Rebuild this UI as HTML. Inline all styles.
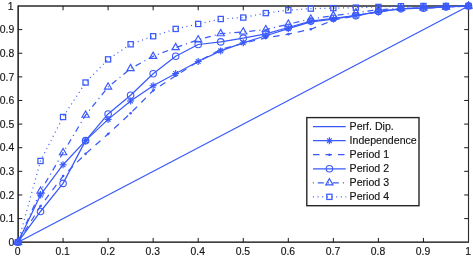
<!DOCTYPE html>
<html><head><meta charset="utf-8"><title>chart</title>
<style>html,body{margin:0;padding:0;background:#fff}svg{display:block}</style></head>
<body><svg width="473" height="257" viewBox="0 0 473 257">
<rect width="473" height="257" fill="#fff"/>
<g stroke="#1a1a1a" fill="none">
<line x1="18.15" y1="5.4" x2="18.15" y2="242.7" stroke-width="1.65" stroke="#303030"/>
<line x1="18.0" y1="242.2" x2="469.0" y2="242.2" stroke-width="1.2" stroke="#000"/>
<line x1="18.0" y1="6.0" x2="469.0" y2="6.0" stroke-width="1.3" stroke="#2a2a2a"/>
<line x1="468.5" y1="6.0" x2="468.5" y2="242.2" stroke-width="1.15" stroke="#2e2e2e"/>
<line x1="63.05" y1="242.2" x2="63.05" y2="237.89999999999998" stroke-width="1"/>
<line x1="63.05" y1="6.0" x2="63.05" y2="10.3" stroke-width="1"/>
<line x1="18.0" y1="218.58" x2="22.3" y2="218.58" stroke-width="1"/>
<line x1="468.5" y1="218.58" x2="464.2" y2="218.58" stroke-width="1"/>
<line x1="108.10" y1="242.2" x2="108.10" y2="237.89999999999998" stroke-width="1"/>
<line x1="108.10" y1="6.0" x2="108.10" y2="10.3" stroke-width="1"/>
<line x1="18.0" y1="194.96" x2="22.3" y2="194.96" stroke-width="1"/>
<line x1="468.5" y1="194.96" x2="464.2" y2="194.96" stroke-width="1"/>
<line x1="153.15" y1="242.2" x2="153.15" y2="237.89999999999998" stroke-width="1"/>
<line x1="153.15" y1="6.0" x2="153.15" y2="10.3" stroke-width="1"/>
<line x1="18.0" y1="171.34" x2="22.3" y2="171.34" stroke-width="1"/>
<line x1="468.5" y1="171.34" x2="464.2" y2="171.34" stroke-width="1"/>
<line x1="198.20" y1="242.2" x2="198.20" y2="237.89999999999998" stroke-width="1"/>
<line x1="198.20" y1="6.0" x2="198.20" y2="10.3" stroke-width="1"/>
<line x1="18.0" y1="147.72" x2="22.3" y2="147.72" stroke-width="1"/>
<line x1="468.5" y1="147.72" x2="464.2" y2="147.72" stroke-width="1"/>
<line x1="243.25" y1="242.2" x2="243.25" y2="237.89999999999998" stroke-width="1"/>
<line x1="243.25" y1="6.0" x2="243.25" y2="10.3" stroke-width="1"/>
<line x1="18.0" y1="124.10" x2="22.3" y2="124.10" stroke-width="1"/>
<line x1="468.5" y1="124.10" x2="464.2" y2="124.10" stroke-width="1"/>
<line x1="288.30" y1="242.2" x2="288.30" y2="237.89999999999998" stroke-width="1"/>
<line x1="288.30" y1="6.0" x2="288.30" y2="10.3" stroke-width="1"/>
<line x1="18.0" y1="100.48" x2="22.3" y2="100.48" stroke-width="1"/>
<line x1="468.5" y1="100.48" x2="464.2" y2="100.48" stroke-width="1"/>
<line x1="333.35" y1="242.2" x2="333.35" y2="237.89999999999998" stroke-width="1"/>
<line x1="333.35" y1="6.0" x2="333.35" y2="10.3" stroke-width="1"/>
<line x1="18.0" y1="76.86" x2="22.3" y2="76.86" stroke-width="1"/>
<line x1="468.5" y1="76.86" x2="464.2" y2="76.86" stroke-width="1"/>
<line x1="378.40" y1="242.2" x2="378.40" y2="237.89999999999998" stroke-width="1"/>
<line x1="378.40" y1="6.0" x2="378.40" y2="10.3" stroke-width="1"/>
<line x1="18.0" y1="53.24" x2="22.3" y2="53.24" stroke-width="1"/>
<line x1="468.5" y1="53.24" x2="464.2" y2="53.24" stroke-width="1"/>
<line x1="423.45" y1="242.2" x2="423.45" y2="237.89999999999998" stroke-width="1"/>
<line x1="423.45" y1="6.0" x2="423.45" y2="10.3" stroke-width="1"/>
<line x1="18.0" y1="29.62" x2="22.3" y2="29.62" stroke-width="1"/>
<line x1="468.5" y1="29.62" x2="464.2" y2="29.62" stroke-width="1"/>
</g>
<g fill="none" stroke="#3a5afa" stroke-width="1.25" stroke-linejoin="round">
<line x1="18.0" y1="242.2" x2="468.5" y2="6.0"/>
<polyline points="18.00,242.20 40.53,194.96 63.05,164.73 85.58,140.63 108.10,119.38 130.62,100.95 153.15,85.72 175.68,73.55 198.20,61.51 220.72,50.88 243.25,42.85 265.78,35.76 288.30,28.68 310.82,21.83 333.35,19.11 355.88,15.45 378.40,11.91 400.93,8.60 423.45,8.01 445.98,6.94 468.50,6.00"/>
<polyline points="18.00,242.20 40.53,206.06 63.05,176.06 85.58,153.86 108.10,134.02 130.62,113.23 153.15,90.56 175.68,75.68 198.20,61.51 220.72,49.46 243.25,43.32 265.78,37.89 288.30,34.23 310.82,29.22 333.35,20.17 355.88,15.92 378.40,11.91 400.93,8.60 423.45,8.01 445.98,6.94 468.50,6.00" stroke-dasharray="6.5 6"/>
<polyline points="18.00,242.20 40.53,211.49 63.05,183.39 85.58,140.63 108.10,113.94 130.62,95.28 153.15,73.79 175.68,56.31 198.20,44.50 220.72,41.90 243.25,38.12 265.78,33.87 288.30,27.49 310.82,21.12 333.35,18.28 355.88,15.68 378.40,11.50 400.93,8.83 423.45,8.13 445.98,6.94 468.50,6.00"/>
<polyline points="18.00,242.20 40.53,191.18 63.05,152.68 85.58,115.12 108.10,87.02 130.62,68.59 153.15,56.31 175.68,47.57 198.20,39.78 220.72,33.64 243.25,31.89 265.78,29.62 288.30,24.19 310.82,18.99 333.35,15.57 355.88,12.71 378.40,9.78 400.93,8.36 423.45,7.89 445.98,7.18 468.50,6.00" stroke-dasharray="1.1 3.85 6 4.05"/>
<polyline points="18.00,242.20 40.53,160.95 63.05,117.01 85.58,82.53 108.10,59.38 130.62,44.26 153.15,36.23 175.68,28.91 198.20,23.95 220.72,18.99 243.25,17.57 265.78,13.09 288.30,10.25 310.82,8.60 333.35,8.13 355.88,7.65 378.40,6.94 400.93,6.24 423.45,6.00 445.98,6.00 468.50,6.00" stroke-dasharray="1.0 3.65"/>
<g stroke-width="1" stroke-linejoin="miter">
<line x1="14.50" y1="242.20" x2="21.50" y2="242.20" stroke-width="1.15"/><line x1="15.65" y1="239.85" x2="20.35" y2="244.55" stroke-width="1.15"/><line x1="18.00" y1="238.70" x2="18.00" y2="245.70" stroke-width="1.15"/><line x1="20.35" y1="239.85" x2="15.65" y2="244.55" stroke-width="1.15"/>
<line x1="37.03" y1="194.96" x2="44.03" y2="194.96" stroke-width="1.15"/><line x1="38.17" y1="192.61" x2="42.88" y2="197.31" stroke-width="1.15"/><line x1="40.53" y1="191.46" x2="40.53" y2="198.46" stroke-width="1.15"/><line x1="42.88" y1="192.61" x2="38.17" y2="197.31" stroke-width="1.15"/>
<line x1="59.55" y1="164.73" x2="66.55" y2="164.73" stroke-width="1.15"/><line x1="60.70" y1="162.38" x2="65.40" y2="167.08" stroke-width="1.15"/><line x1="63.05" y1="161.23" x2="63.05" y2="168.23" stroke-width="1.15"/><line x1="65.40" y1="162.38" x2="60.70" y2="167.08" stroke-width="1.15"/>
<line x1="82.08" y1="140.63" x2="89.08" y2="140.63" stroke-width="1.15"/><line x1="83.22" y1="138.28" x2="87.93" y2="142.99" stroke-width="1.15"/><line x1="85.58" y1="137.13" x2="85.58" y2="144.13" stroke-width="1.15"/><line x1="87.93" y1="138.28" x2="83.22" y2="142.99" stroke-width="1.15"/>
<line x1="104.60" y1="119.38" x2="111.60" y2="119.38" stroke-width="1.15"/><line x1="105.75" y1="117.02" x2="110.45" y2="121.73" stroke-width="1.15"/><line x1="108.10" y1="115.88" x2="108.10" y2="122.88" stroke-width="1.15"/><line x1="110.45" y1="117.02" x2="105.75" y2="121.73" stroke-width="1.15"/>
<line x1="127.12" y1="100.95" x2="134.12" y2="100.95" stroke-width="1.15"/><line x1="128.27" y1="98.60" x2="132.98" y2="103.30" stroke-width="1.15"/><line x1="130.62" y1="97.45" x2="130.62" y2="104.45" stroke-width="1.15"/><line x1="132.98" y1="98.60" x2="128.27" y2="103.30" stroke-width="1.15"/>
<line x1="149.65" y1="85.72" x2="156.65" y2="85.72" stroke-width="1.15"/><line x1="150.80" y1="83.37" x2="155.50" y2="88.07" stroke-width="1.15"/><line x1="153.15" y1="82.22" x2="153.15" y2="89.22" stroke-width="1.15"/><line x1="155.50" y1="83.37" x2="150.80" y2="88.07" stroke-width="1.15"/>
<line x1="172.18" y1="73.55" x2="179.18" y2="73.55" stroke-width="1.15"/><line x1="173.32" y1="71.20" x2="178.03" y2="75.90" stroke-width="1.15"/><line x1="175.68" y1="70.05" x2="175.68" y2="77.05" stroke-width="1.15"/><line x1="178.03" y1="71.20" x2="173.32" y2="75.90" stroke-width="1.15"/>
<line x1="194.70" y1="61.51" x2="201.70" y2="61.51" stroke-width="1.15"/><line x1="195.85" y1="59.16" x2="200.55" y2="63.86" stroke-width="1.15"/><line x1="198.20" y1="58.01" x2="198.20" y2="65.01" stroke-width="1.15"/><line x1="200.55" y1="59.16" x2="195.85" y2="63.86" stroke-width="1.15"/>
<line x1="217.22" y1="50.88" x2="224.22" y2="50.88" stroke-width="1.15"/><line x1="218.37" y1="48.53" x2="223.08" y2="53.23" stroke-width="1.15"/><line x1="220.72" y1="47.38" x2="220.72" y2="54.38" stroke-width="1.15"/><line x1="223.08" y1="48.53" x2="218.37" y2="53.23" stroke-width="1.15"/>
<line x1="239.75" y1="42.85" x2="246.75" y2="42.85" stroke-width="1.15"/><line x1="240.90" y1="40.50" x2="245.60" y2="45.20" stroke-width="1.15"/><line x1="243.25" y1="39.35" x2="243.25" y2="46.35" stroke-width="1.15"/><line x1="245.60" y1="40.50" x2="240.90" y2="45.20" stroke-width="1.15"/>
<line x1="262.28" y1="35.76" x2="269.28" y2="35.76" stroke-width="1.15"/><line x1="263.42" y1="33.41" x2="268.13" y2="38.11" stroke-width="1.15"/><line x1="265.78" y1="32.26" x2="265.78" y2="39.26" stroke-width="1.15"/><line x1="268.13" y1="33.41" x2="263.42" y2="38.11" stroke-width="1.15"/>
<line x1="284.80" y1="28.68" x2="291.80" y2="28.68" stroke-width="1.15"/><line x1="285.95" y1="26.32" x2="290.65" y2="31.03" stroke-width="1.15"/><line x1="288.30" y1="25.18" x2="288.30" y2="32.18" stroke-width="1.15"/><line x1="290.65" y1="26.32" x2="285.95" y2="31.03" stroke-width="1.15"/>
<line x1="307.32" y1="21.83" x2="314.32" y2="21.83" stroke-width="1.15"/><line x1="308.47" y1="19.47" x2="313.18" y2="24.18" stroke-width="1.15"/><line x1="310.82" y1="18.33" x2="310.82" y2="25.33" stroke-width="1.15"/><line x1="313.18" y1="19.47" x2="308.47" y2="24.18" stroke-width="1.15"/>
<line x1="329.85" y1="19.11" x2="336.85" y2="19.11" stroke-width="1.15"/><line x1="331.00" y1="16.76" x2="335.70" y2="21.46" stroke-width="1.15"/><line x1="333.35" y1="15.61" x2="333.35" y2="22.61" stroke-width="1.15"/><line x1="335.70" y1="16.76" x2="331.00" y2="21.46" stroke-width="1.15"/>
<line x1="352.38" y1="15.45" x2="359.38" y2="15.45" stroke-width="1.15"/><line x1="353.52" y1="13.10" x2="358.23" y2="17.80" stroke-width="1.15"/><line x1="355.88" y1="11.95" x2="355.88" y2="18.95" stroke-width="1.15"/><line x1="358.23" y1="13.10" x2="353.52" y2="17.80" stroke-width="1.15"/>
<line x1="374.90" y1="11.91" x2="381.90" y2="11.91" stroke-width="1.15"/><line x1="376.05" y1="9.55" x2="380.75" y2="14.26" stroke-width="1.15"/><line x1="378.40" y1="8.41" x2="378.40" y2="15.41" stroke-width="1.15"/><line x1="380.75" y1="9.55" x2="376.05" y2="14.26" stroke-width="1.15"/>
<line x1="397.43" y1="8.60" x2="404.43" y2="8.60" stroke-width="1.15"/><line x1="398.57" y1="6.25" x2="403.28" y2="10.95" stroke-width="1.15"/><line x1="400.93" y1="5.10" x2="400.93" y2="12.10" stroke-width="1.15"/><line x1="403.28" y1="6.25" x2="398.57" y2="10.95" stroke-width="1.15"/>
<line x1="419.95" y1="8.01" x2="426.95" y2="8.01" stroke-width="1.15"/><line x1="421.10" y1="5.66" x2="425.80" y2="10.36" stroke-width="1.15"/><line x1="423.45" y1="4.51" x2="423.45" y2="11.51" stroke-width="1.15"/><line x1="425.80" y1="5.66" x2="421.10" y2="10.36" stroke-width="1.15"/>
<line x1="442.48" y1="6.94" x2="449.48" y2="6.94" stroke-width="1.15"/><line x1="443.62" y1="4.59" x2="448.33" y2="9.30" stroke-width="1.15"/><line x1="445.98" y1="3.44" x2="445.98" y2="10.44" stroke-width="1.15"/><line x1="448.33" y1="4.59" x2="443.62" y2="9.30" stroke-width="1.15"/>
<line x1="465.00" y1="6.00" x2="472.00" y2="6.00" stroke-width="1.15"/><line x1="466.15" y1="3.65" x2="470.85" y2="8.35" stroke-width="1.15"/><line x1="468.50" y1="2.50" x2="468.50" y2="9.50" stroke-width="1.15"/><line x1="470.85" y1="3.65" x2="466.15" y2="8.35" stroke-width="1.15"/>
<circle cx="18.00" cy="242.20" r="1.3" fill="#3a5afa" stroke="none"/>
<circle cx="40.53" cy="206.06" r="1.3" fill="#3a5afa" stroke="none"/>
<circle cx="63.05" cy="176.06" r="1.3" fill="#3a5afa" stroke="none"/>
<circle cx="85.58" cy="153.86" r="1.3" fill="#3a5afa" stroke="none"/>
<circle cx="108.10" cy="134.02" r="1.3" fill="#3a5afa" stroke="none"/>
<circle cx="130.62" cy="113.23" r="1.3" fill="#3a5afa" stroke="none"/>
<circle cx="153.15" cy="90.56" r="1.3" fill="#3a5afa" stroke="none"/>
<circle cx="175.68" cy="75.68" r="1.3" fill="#3a5afa" stroke="none"/>
<circle cx="198.20" cy="61.51" r="1.3" fill="#3a5afa" stroke="none"/>
<circle cx="220.72" cy="49.46" r="1.3" fill="#3a5afa" stroke="none"/>
<circle cx="243.25" cy="43.32" r="1.3" fill="#3a5afa" stroke="none"/>
<circle cx="265.78" cy="37.89" r="1.3" fill="#3a5afa" stroke="none"/>
<circle cx="288.30" cy="34.23" r="1.3" fill="#3a5afa" stroke="none"/>
<circle cx="310.82" cy="29.22" r="1.3" fill="#3a5afa" stroke="none"/>
<circle cx="333.35" cy="20.17" r="1.3" fill="#3a5afa" stroke="none"/>
<circle cx="355.88" cy="15.92" r="1.3" fill="#3a5afa" stroke="none"/>
<circle cx="378.40" cy="11.91" r="1.3" fill="#3a5afa" stroke="none"/>
<circle cx="400.93" cy="8.60" r="1.3" fill="#3a5afa" stroke="none"/>
<circle cx="423.45" cy="8.01" r="1.3" fill="#3a5afa" stroke="none"/>
<circle cx="445.98" cy="6.94" r="1.3" fill="#3a5afa" stroke="none"/>
<circle cx="468.50" cy="6.00" r="1.3" fill="#3a5afa" stroke="none"/>
<circle cx="18.00" cy="242.20" r="3.25" stroke-width="1.1"/>
<circle cx="40.53" cy="211.49" r="3.25" stroke-width="1.1"/>
<circle cx="63.05" cy="183.39" r="3.25" stroke-width="1.1"/>
<circle cx="85.58" cy="140.63" r="3.25" stroke-width="1.1"/>
<circle cx="108.10" cy="113.94" r="3.25" stroke-width="1.1"/>
<circle cx="130.62" cy="95.28" r="3.25" stroke-width="1.1"/>
<circle cx="153.15" cy="73.79" r="3.25" stroke-width="1.1"/>
<circle cx="175.68" cy="56.31" r="3.25" stroke-width="1.1"/>
<circle cx="198.20" cy="44.50" r="3.25" stroke-width="1.1"/>
<circle cx="220.72" cy="41.90" r="3.25" stroke-width="1.1"/>
<circle cx="243.25" cy="38.12" r="3.25" stroke-width="1.1"/>
<circle cx="265.78" cy="33.87" r="3.25" stroke-width="1.1"/>
<circle cx="288.30" cy="27.49" r="3.25" stroke-width="1.1"/>
<circle cx="310.82" cy="21.12" r="3.25" stroke-width="1.1"/>
<circle cx="333.35" cy="18.28" r="3.25" stroke-width="1.1"/>
<circle cx="355.88" cy="15.68" r="3.25" stroke-width="1.1"/>
<circle cx="378.40" cy="11.50" r="3.25" stroke-width="1.1"/>
<circle cx="400.93" cy="8.83" r="3.25" stroke-width="1.1"/>
<circle cx="423.45" cy="8.13" r="3.25" stroke-width="1.1"/>
<circle cx="445.98" cy="6.94" r="3.25" stroke-width="1.1"/>
<circle cx="468.50" cy="6.00" r="3.25" stroke-width="1.1"/>
<polygon points="18.00,238.00 14.36,244.30 21.64,244.30" stroke-width="1.15"/>
<polygon points="40.53,186.98 36.89,193.28 44.16,193.28" stroke-width="1.15"/>
<polygon points="63.05,148.48 59.41,154.78 66.69,154.78" stroke-width="1.15"/>
<polygon points="85.58,110.92 81.94,117.22 89.21,117.22" stroke-width="1.15"/>
<polygon points="108.10,82.82 104.46,89.12 111.74,89.12" stroke-width="1.15"/>
<polygon points="130.62,64.39 126.99,70.69 134.26,70.69" stroke-width="1.15"/>
<polygon points="153.15,52.11 149.51,58.41 156.79,58.41" stroke-width="1.15"/>
<polygon points="175.68,43.37 172.04,49.67 179.31,49.67" stroke-width="1.15"/>
<polygon points="198.20,35.58 194.56,41.88 201.84,41.88" stroke-width="1.15"/>
<polygon points="220.72,29.44 217.09,35.74 224.36,35.74" stroke-width="1.15"/>
<polygon points="243.25,27.69 239.61,33.99 246.89,33.99" stroke-width="1.15"/>
<polygon points="265.78,25.42 262.14,31.72 269.41,31.72" stroke-width="1.15"/>
<polygon points="288.30,19.99 284.66,26.29 291.94,26.29" stroke-width="1.15"/>
<polygon points="310.82,14.79 307.19,21.09 314.46,21.09" stroke-width="1.15"/>
<polygon points="333.35,11.37 329.71,17.67 336.99,17.67" stroke-width="1.15"/>
<polygon points="355.88,8.51 352.24,14.81 359.51,14.81" stroke-width="1.15"/>
<polygon points="378.40,5.58 374.76,11.88 382.04,11.88" stroke-width="1.15"/>
<polygon points="400.93,4.16 397.29,10.46 404.56,10.46" stroke-width="1.15"/>
<polygon points="423.45,3.69 419.81,9.99 427.09,9.99" stroke-width="1.15"/>
<polygon points="445.98,2.98 442.34,9.28 449.61,9.28" stroke-width="1.15"/>
<polygon points="468.50,1.80 464.86,8.10 472.14,8.10" stroke-width="1.15"/>
<rect x="15.40" y="239.60" width="5.2" height="5.2" stroke-width="1.25"/>
<rect x="37.93" y="158.35" width="5.2" height="5.2" stroke-width="1.25"/>
<rect x="60.45" y="114.41" width="5.2" height="5.2" stroke-width="1.25"/>
<rect x="82.98" y="79.93" width="5.2" height="5.2" stroke-width="1.25"/>
<rect x="105.50" y="56.78" width="5.2" height="5.2" stroke-width="1.25"/>
<rect x="128.03" y="41.66" width="5.2" height="5.2" stroke-width="1.25"/>
<rect x="150.55" y="33.63" width="5.2" height="5.2" stroke-width="1.25"/>
<rect x="173.08" y="26.31" width="5.2" height="5.2" stroke-width="1.25"/>
<rect x="195.60" y="21.35" width="5.2" height="5.2" stroke-width="1.25"/>
<rect x="218.12" y="16.39" width="5.2" height="5.2" stroke-width="1.25"/>
<rect x="240.65" y="14.97" width="5.2" height="5.2" stroke-width="1.25"/>
<rect x="263.18" y="10.49" width="5.2" height="5.2" stroke-width="1.25"/>
<rect x="285.70" y="7.65" width="5.2" height="5.2" stroke-width="1.25"/>
<rect x="308.22" y="6.00" width="5.2" height="5.2" stroke-width="1.25"/>
<rect x="330.75" y="5.53" width="5.2" height="5.2" stroke-width="1.25"/>
<rect x="353.27" y="5.05" width="5.2" height="5.2" stroke-width="1.25"/>
<rect x="375.80" y="4.34" width="5.2" height="5.2" stroke-width="1.25"/>
<rect x="398.33" y="3.64" width="5.2" height="5.2" stroke-width="1.25"/>
<rect x="420.85" y="3.40" width="5.2" height="5.2" stroke-width="1.25"/>
<rect x="443.38" y="3.40" width="5.2" height="5.2" stroke-width="1.25"/>
<rect x="465.90" y="3.40" width="5.2" height="5.2" stroke-width="1.25"/>
</g></g>
<g font-family="'Liberation Sans', Arial, Helvetica, sans-serif" fill="#141414" stroke="#141414" stroke-width="0.15">
<text transform="translate(17.60,254.70) scale(1.0,0.97)" text-anchor="middle" font-size="10.4">0</text>
<text transform="translate(14.25,245.90) scale(1.0,0.97)" text-anchor="end" font-size="10.4">0</text>
<text transform="translate(62.65,254.70) scale(1.0,0.97)" text-anchor="middle" font-size="10.4">0.1</text>
<text transform="translate(14.25,222.28) scale(1.0,0.97)" text-anchor="end" font-size="10.4">0.1</text>
<text transform="translate(107.70,254.70) scale(1.0,0.97)" text-anchor="middle" font-size="10.4">0.2</text>
<text transform="translate(14.25,198.66) scale(1.0,0.97)" text-anchor="end" font-size="10.4">0.2</text>
<text transform="translate(152.75,254.70) scale(1.0,0.97)" text-anchor="middle" font-size="10.4">0.3</text>
<text transform="translate(14.25,175.04) scale(1.0,0.97)" text-anchor="end" font-size="10.4">0.3</text>
<text transform="translate(197.80,254.70) scale(1.0,0.97)" text-anchor="middle" font-size="10.4">0.4</text>
<text transform="translate(14.25,151.42) scale(1.0,0.97)" text-anchor="end" font-size="10.4">0.4</text>
<text transform="translate(242.85,254.70) scale(1.0,0.97)" text-anchor="middle" font-size="10.4">0.5</text>
<text transform="translate(14.25,127.80) scale(1.0,0.97)" text-anchor="end" font-size="10.4">0.5</text>
<text transform="translate(287.90,254.70) scale(1.0,0.97)" text-anchor="middle" font-size="10.4">0.6</text>
<text transform="translate(14.25,104.18) scale(1.0,0.97)" text-anchor="end" font-size="10.4">0.6</text>
<text transform="translate(332.95,254.70) scale(1.0,0.97)" text-anchor="middle" font-size="10.4">0.7</text>
<text transform="translate(14.25,80.56) scale(1.0,0.97)" text-anchor="end" font-size="10.4">0.7</text>
<text transform="translate(378.00,254.70) scale(1.0,0.97)" text-anchor="middle" font-size="10.4">0.8</text>
<text transform="translate(14.25,56.94) scale(1.0,0.97)" text-anchor="end" font-size="10.4">0.8</text>
<text transform="translate(423.05,254.70) scale(1.0,0.97)" text-anchor="middle" font-size="10.4">0.9</text>
<text transform="translate(14.25,33.32) scale(1.0,0.97)" text-anchor="end" font-size="10.4">0.9</text>
<text transform="translate(468.10,254.70) scale(1.0,0.97)" text-anchor="middle" font-size="10.4">1</text>
<text transform="translate(13.60,9.70) scale(1.0,0.97)" text-anchor="end" font-size="10.4">1</text>
</g>
<rect x="306.8" y="117.6" width="112.19999999999999" height="88.1" fill="#fff" stroke="#262626" stroke-width="1.4"/>
<g fill="none" stroke="#3a5afa" stroke-width="1.25">
<line x1="313.0" y1="126.60" x2="345.7" y2="126.60"/>
<g stroke-width="1" stroke-linejoin="miter">
</g>
<line x1="313.0" y1="140.65" x2="345.7" y2="140.65"/>
<g stroke-width="1" stroke-linejoin="miter">
<line x1="325.90" y1="140.65" x2="332.90" y2="140.65" stroke-width="1.15"/><line x1="327.05" y1="138.30" x2="331.75" y2="143.00" stroke-width="1.15"/><line x1="329.40" y1="137.15" x2="329.40" y2="144.15" stroke-width="1.15"/><line x1="331.75" y1="138.30" x2="327.05" y2="143.00" stroke-width="1.15"/>
</g>
<line x1="313.0" y1="154.70" x2="345.7" y2="154.70" stroke-dasharray="6.5 6"/>
<g stroke-width="1" stroke-linejoin="miter">
<circle cx="329.40" cy="154.70" r="1.3" fill="#3a5afa" stroke="none"/>
</g>
<line x1="313.0" y1="168.75" x2="345.7" y2="168.75"/>
<g stroke-width="1" stroke-linejoin="miter">
<circle cx="329.40" cy="168.75" r="3.25" stroke-width="1.1"/>
</g>
<line x1="312.85" y1="182.80" x2="344.0" y2="182.80" stroke-dasharray="1.1 3.85 6 4.05"/>
<g stroke-width="1" stroke-linejoin="miter">
<polygon points="329.40,178.60 325.76,184.90 333.04,184.90" stroke-width="1.15"/>
</g>
<line x1="312.9" y1="196.85" x2="346.2" y2="196.85" stroke-dasharray="1.0 3.65"/>
<g stroke-width="1" stroke-linejoin="miter">
<rect x="326.80" y="194.25" width="5.2" height="5.2" stroke-width="1.25"/>
</g>
</g>
<g font-family="'Liberation Sans', Arial, Helvetica, sans-serif" fill="#141414" stroke="#141414" stroke-width="0.15">
<text transform="translate(349.60,130.20) scale(1.0,0.96)" text-anchor="start" font-size="10.6">Perf. Dip.</text>
<text transform="translate(349.60,144.25) scale(1.0,0.96)" text-anchor="start" font-size="10.6">Independence</text>
<text transform="translate(349.60,158.30) scale(1.0,0.96)" text-anchor="start" font-size="10.6">Period 1</text>
<text transform="translate(349.60,172.35) scale(1.0,0.96)" text-anchor="start" font-size="10.6">Period 2</text>
<text transform="translate(349.60,186.40) scale(1.0,0.96)" text-anchor="start" font-size="10.6">Period 3</text>
<text transform="translate(349.60,200.45) scale(1.0,0.96)" text-anchor="start" font-size="10.6">Period 4</text>
</g>
</svg></body></html>
